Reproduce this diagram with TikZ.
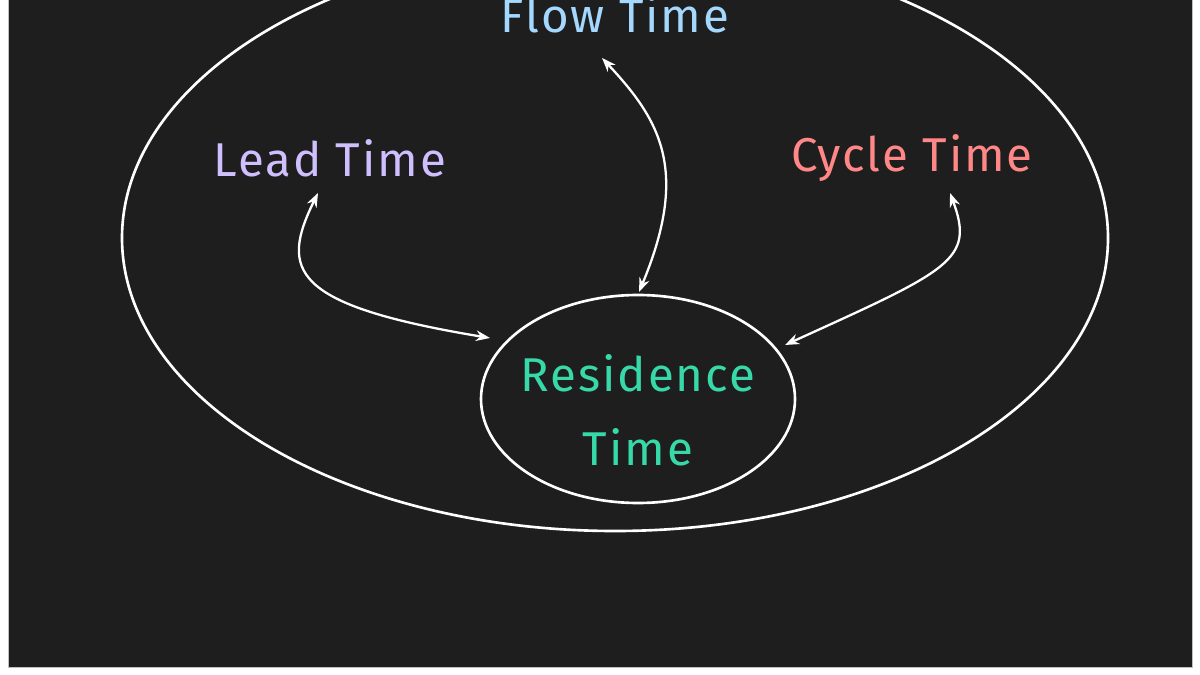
\documentclass[tikz,border=0pt]{standalone}
\usepackage{fontspec}
\setmainfont{Fira Sans}[LetterSpace=4]
\usetikzlibrary{arrows.meta}
\definecolor{bg}{HTML}{1E1E1E}
\definecolor{cblue}{HTML}{A5D8FF}
\definecolor{cpurple}{HTML}{D0BFFF}
\definecolor{cred}{HTML}{FF8787}
\definecolor{cgreen}{HTML}{38D9A9}
\tikzset{
  lbl/.style={font=\fontsize{27}{34}\selectfont, align=center},
  link/.style={white, line width=1.3pt, {Stealth[length=8pt,open]}-{Stealth[length=8pt,open]}, line cap=round},
}
\begin{document}
\begin{tikzpicture}[x=0.02cm,y=-0.02cm]
\useasboundingbox (0,0) rectangle (1200,675);
\fill[white] (0,0) rectangle (1200,675);
\fill[bg, draw=gray!50] (8,-2) rectangle (1192,667);
\begin{scope}
\clip (8,0) rectangle (1192,667);
\draw[white, line width=1.5pt] (615,238) ellipse [x radius=493, y radius=293];
\end{scope}
\draw[white, line width=1.5pt] (638,399) ellipse [x radius=157, y radius=104];
\node[lbl, text=cblue] (flow) at (615,14) {Flow Time};
\node[lbl, text=cpurple] (lead) at (330,158) {Lead Time};
\node[lbl, text=cred] (cycle) at (912,158) {Cycle Time};
\node[lbl, text=cgreen, text width=6cm] (res) at (638,410) {Residence\\[8pt]Time};
\coordinate (f1) at (602,58);
\coordinate (f2) at (639,292);
\coordinate (l1) at (318,193);
\coordinate (l2) at (490,338);
\coordinate (c1) at (950,193);
\coordinate (c2) at (785,345);
\draw[link] (f1) .. controls (660,120) and (690,170) .. (f2);
\draw[link] (l1) .. controls (280,270) and (290,305) .. (l2);
\draw[link] (c1) .. controls (975,260) and (950,270) .. (c2);
\end{tikzpicture}
\end{document}
